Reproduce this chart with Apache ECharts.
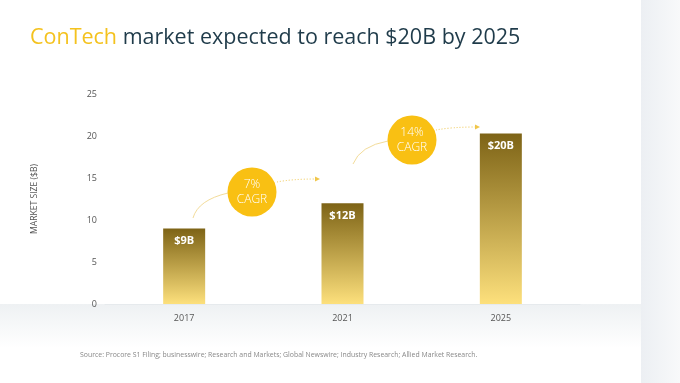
<!DOCTYPE html>
<html><head><meta charset="utf-8">
<script src="https://cdn.jsdelivr.net/npm/echarts@6/dist/echarts.min.js"></script>
<style>html,body{margin:0;padding:0;background:#fff}#c{width:680px;height:383px}</style>
</head><body><div id="c"></div>
<script>
const years = ['2017', '2021', '2025'];
const marketSize = [9, 12, 20.3];
const barLabels = ['$9B', '$12B', '$20B'];
const yTicks = [0, 5, 10, 15, 20, 25];
const cagrLabels = ['7%\nCAGR', '14%\nCAGR'];

const FONT = '"Open Sans", "Noto Sans", sans-serif';
const chart = echarts.init(document.getElementById('c'), null, {renderer: 'canvas'});

const circlePos = [[252, 192], [412, 140]];

const option = {
  backgroundColor: '#ffffff',
  animation: false,
  grid: {left: 105, right: 100, top: 94, bottom: 79},
  xAxis: {
    type: 'category', data: years,
    axisLine: {show: true, lineStyle: {color: '#e6eaed', width: 1}},
    axisTick: {show: false},
    axisLabel: {color: '#555', fontSize: 9, fontFamily: FONT, margin: 10}
  },
  yAxis: {
    type: 'value', min: yTicks[0], max: yTicks[yTicks.length - 1], interval: 5,
    name: 'MARKET SIZE ($B)', nameLocation: 'middle', nameRotate: 90, nameGap: 66,
    nameTextStyle: {color: '#555', fontSize: 8.6, fontFamily: FONT},
    axisLine: {show: false}, axisTick: {show: false}, splitLine: {show: false},
    axisLabel: {color: '#555', fontSize: 9, fontFamily: FONT, margin: 8}
  },
  graphic: [
    {type: 'rect', z: -10, silent: true, shape: {x: 641, y: 0, width: 39, height: 383},
     style: {fill: new echarts.graphic.LinearGradient(0, 0, 1, 0, [{offset: 0, color: '#eceff3'}, {offset: 1, color: '#f8f9fa'}])}},
    {type: 'rect', z: -10, silent: true, shape: {x: 0, y: 304, width: 641, height: 44},
     style: {fill: new echarts.graphic.LinearGradient(0, 0, 0, 1, [{offset: 0, color: '#eef1f3'}, {offset: 1, color: '#ffffff'}])}},
    {type: 'text', left: 30, top: 27, style: {
      text: '{a|ConTech}{b| market expected to reach $20B by 2025}',
      rich: {a: {fill: '#f4c21e', fontSize: 21.5, fontFamily: FONT}, b: {fill: '#1f3b4a', fontSize: 21.5, fontFamily: FONT}}
    }},
    {type: 'text', left: 80, top: 352, style: {
      text: 'Source: Procore S1 Filing; businesswire; Research and Markets; Global Newswire; Industry Research; Allied Market Research.',
      fill: '#888', fontSize: 6.9, fontFamily: FONT
    }},
    // curves and dotted arrows
    {type: 'bezierCurve', silent: true, shape: {x1: 193, y1: 218, x2: 228, y2: 193, cpx1: 198, cpy1: 200},
     style: {stroke: '#f3dc9a', lineWidth: 1, fill: null}},
    {type: 'bezierCurve', silent: true, shape: {x1: 277, y1: 182, x2: 316, y2: 179, cpx1: 292, cpy1: 179},
     style: {stroke: '#f0c64a', lineWidth: 1, lineDash: [1, 2], fill: null}},
    {type: 'polygon', silent: true, shape: {points: [[320, 179], [315, 176.5], [315, 181.5]]}, style: {fill: '#f0c64a'}},
    {type: 'bezierCurve', silent: true, shape: {x1: 353, y1: 164, x2: 388, y2: 141, cpx1: 360, cpy1: 146},
     style: {stroke: '#f3dc9a', lineWidth: 1, fill: null}},
    {type: 'bezierCurve', silent: true, shape: {x1: 436, y1: 130, x2: 476, y2: 127, cpx1: 452, cpy1: 127},
     style: {stroke: '#f0c64a', lineWidth: 1, lineDash: [1, 2], fill: null}},
    {type: 'polygon', silent: true, shape: {points: [[480, 127], [475, 124.5], [475, 129.5]]}, style: {fill: '#f0c64a'}}
  ].concat(circlePos.map((p, i) => ({
    type: 'group', x: p[0], y: p[1], children: [
      {type: 'circle', shape: {cx: 0, cy: 0, r: 24.5}, style: {fill: '#f9c013'}},
      {type: 'text', style: {text: cagrLabels[i], x: 0, y: 0, align: 'center', verticalAlign: 'middle',
        fill: '#fff', fontSize: 12, lineHeight: 15, fontFamily: FONT, fontWeight: 300}}
    ]
  }))),
  series: [{
    type: 'bar', data: marketSize, barWidth: 42,
    itemStyle: {color: new echarts.graphic.LinearGradient(0, 0, 0, 1, [
      {offset: 0, color: '#7d6316'}, {offset: 1, color: '#fde07c'}])},
    label: {show: true, position: 'insideTop', distance: 7, color: '#fff', fontSize: 11, fontWeight: 'bold', fontFamily: FONT,
      formatter: p => barLabels[p.dataIndex]}
  }]
};
chart.setOption(option);
</script></body></html>
